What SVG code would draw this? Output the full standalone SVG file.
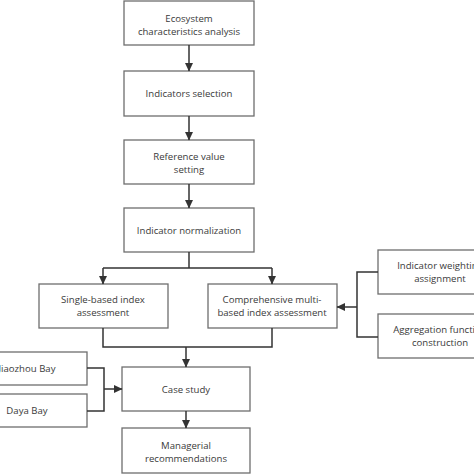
<svg xmlns="http://www.w3.org/2000/svg" width="474" height="474" viewBox="0 0 474 474">
<defs>
<style>
.box{fill:#fff;stroke:#6e6e6e;stroke-width:1.3}
.t{font-family:"Open Sans","Noto Sans","DejaVu Sans",sans-serif;font-size:9.6px;fill:#3a3a3a;text-anchor:middle}
.c{fill:none;stroke:#333;stroke-width:1.5}
</style>
<marker id="ah" markerWidth="9" markerHeight="9" refX="8" refY="4.5" orient="auto" markerUnits="userSpaceOnUse">
<path d="M0,0.5 L8.5,4.5 L0,8.5 Z" fill="#333"/>
</marker>
</defs>
<rect width="474" height="474" fill="#fff"/>
<g id="n1"><rect class="box" x="124" y="1" width="130" height="44"/><text class="t" x="189" y="22">Ecosystem</text><text class="t" x="189" y="35">characteristics analysis</text></g>
<g id="n2"><rect class="box" x="124" y="71" width="130" height="45"/><text class="t" x="189" y="97">Indicators selection</text></g>
<g id="n3"><rect class="box" x="124" y="140" width="130" height="44"/><text class="t" x="189" y="160">Reference value</text><text class="t" x="189" y="173">setting</text></g>
<g id="n4"><rect class="box" x="124" y="208" width="130" height="44"/><text class="t" x="189" y="234">Indicator normalization</text></g>
<g id="n5"><rect class="box" x="39" y="284" width="129" height="44"/><text class="t" x="103" y="303">Single-based index</text><text class="t" x="103" y="316">assessment</text></g>
<g id="n6"><rect class="box" x="208" y="284" width="129" height="44"/><text class="t" x="272" y="303">Comprehensive multi-</text><text class="t" x="272" y="316">based index assessment</text></g>
<g id="n7"><rect class="box" x="378" y="250" width="124" height="44"/><text class="t" x="440" y="269">Indicator weighting</text><text class="t" x="440" y="282">assignment</text></g>
<g id="n8"><rect class="box" x="378" y="314" width="124" height="44"/><text class="t" x="440" y="333">Aggregation function</text><text class="t" x="440" y="346">construction</text></g>
<g id="n9"><rect class="box" x="-33" y="352" width="120" height="33"/><text class="t" x="27" y="372">Jiaozhou Bay</text></g>
<g id="n10"><rect class="box" x="-33" y="394" width="120" height="33"/><text class="t" x="27" y="414">Daya Bay</text></g>
<g id="n11"><rect class="box" x="122" y="367" width="128" height="44"/><text class="t" x="186" y="393">Case study</text></g>
<g id="n12"><rect class="box" x="122" y="428" width="128" height="45"/><text class="t" x="186" y="449">Managerial</text><text class="t" x="186" y="462">recommendations</text></g>
<g id="connectors">
<path class="c" d="M189,45 V71" marker-end="url(#ah)"/>
<path class="c" d="M189,116 V140" marker-end="url(#ah)"/>
<path class="c" d="M189,184 V208" marker-end="url(#ah)"/>
<path class="c" d="M189,252 V268"/>
<path class="c" d="M103,268 H272"/>
<path class="c" d="M103,268 V284" marker-end="url(#ah)"/>
<path class="c" d="M272,268 V284" marker-end="url(#ah)"/>
<path class="c" d="M378,272 H357 V337 H378"/>
<path class="c" d="M357,307 H337" marker-end="url(#ah)"/>
<path class="c" d="M103,328 V347 H272 V328"/>
<path class="c" d="M186,347 V367" marker-end="url(#ah)"/>
<path class="c" d="M87,368 H104 V411 H87"/>
<path class="c" d="M104,389 H122" marker-end="url(#ah)"/>
<path class="c" d="M186,411 V428" marker-end="url(#ah)"/>
</g>
</svg>
